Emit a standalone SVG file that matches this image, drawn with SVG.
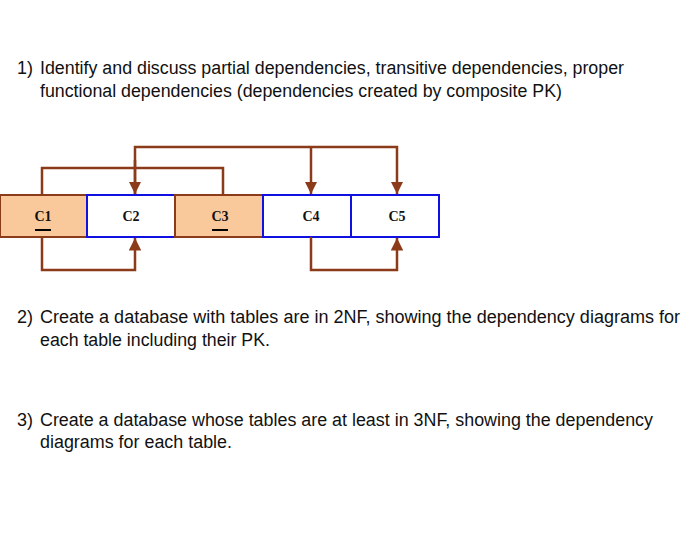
<svg xmlns="http://www.w3.org/2000/svg" width="700" height="540" viewBox="0 0 700 540">
<style>
.t{font-family:"Liberation Sans",Arial,sans-serif;font-size:18px;fill:#111}
.c{font-family:"Liberation Serif",serif;font-size:14px;font-weight:bold;text-anchor:middle;fill:#111}
.k{fill:#f9c89b;stroke:#8b3a1a;stroke-width:2}
.n{fill:#fff;stroke:#1010e0;stroke-width:2}
.l{fill:none;stroke:#8b3a1a;stroke-width:2.5}
</style>
<defs><marker id="a" viewBox="0 0 10 10" refX="10" refY="5" markerWidth="5" markerHeight="5" orient="auto"><path d="M0,0L10,5L0,10z" fill="#8b3a1a"/></marker></defs>
<rect width="700" height="540" fill="#fff"/>
<text class="t" x="17" y="74">1)</text>
<text class="t" x="40" y="74" textLength="584" lengthAdjust="spacingAndGlyphs">Identify and discuss partial dependencies, transitive dependencies, proper</text>
<text class="t" x="40" y="97" textLength="522" lengthAdjust="spacingAndGlyphs">functional dependencies (dependencies created by composite PK)</text>
<text class="t" x="17" y="323">2)</text>
<text class="t" x="40" y="323" textLength="640" lengthAdjust="spacingAndGlyphs">Create a database with tables are in 2NF, showing the dependency diagrams for</text>
<text class="t" x="40" y="346" textLength="230" lengthAdjust="spacingAndGlyphs">each table including their PK.</text>
<text class="t" x="17" y="426">3)</text>
<text class="t" x="40" y="426" textLength="613" lengthAdjust="spacingAndGlyphs">Create a database whose tables are at least in 3NF, showing the dependency</text>
<text class="t" x="40" y="448" textLength="192" lengthAdjust="spacingAndGlyphs">diagrams for each table.</text>
<g id="C1"><rect class="k" x="0" y="195" width="87" height="42"/><text class="c" x="43" y="221">C1</text><line x1="35" y1="230" x2="51" y2="230" stroke="#000" stroke-width="2"/></g>
<g id="C2"><rect class="n" x="87" y="195" width="88" height="42"/><text class="c" x="131" y="221">C2</text></g>
<g id="C3"><rect class="k" x="175" y="195" width="88" height="42"/><text class="c" x="220" y="221">C3</text><line x1="212" y1="230" x2="228" y2="230" stroke="#000" stroke-width="2"/></g>
<g id="C4"><rect class="n" x="263" y="195" width="88" height="42"/><text class="c" x="311" y="221">C4</text></g>
<g id="C5"><rect class="n" x="351" y="195" width="88" height="42"/><text class="c" x="397" y="221">C5</text></g>
<g id="connectors">
<path class="l" d="M42,195V168H223V195"/>
<path class="l" d="M135,194V147H397V194" marker-end="url(#a)"/>
<path class="l" d="M311,147V194" marker-end="url(#a)"/>
<path class="l" d="M135,160V194" marker-end="url(#a)"/>
<path class="l" d="M42,237V270H135V238" marker-end="url(#a)"/>
<path class="l" d="M311,237V270H397V238" marker-end="url(#a)"/>
</g>
</svg>
